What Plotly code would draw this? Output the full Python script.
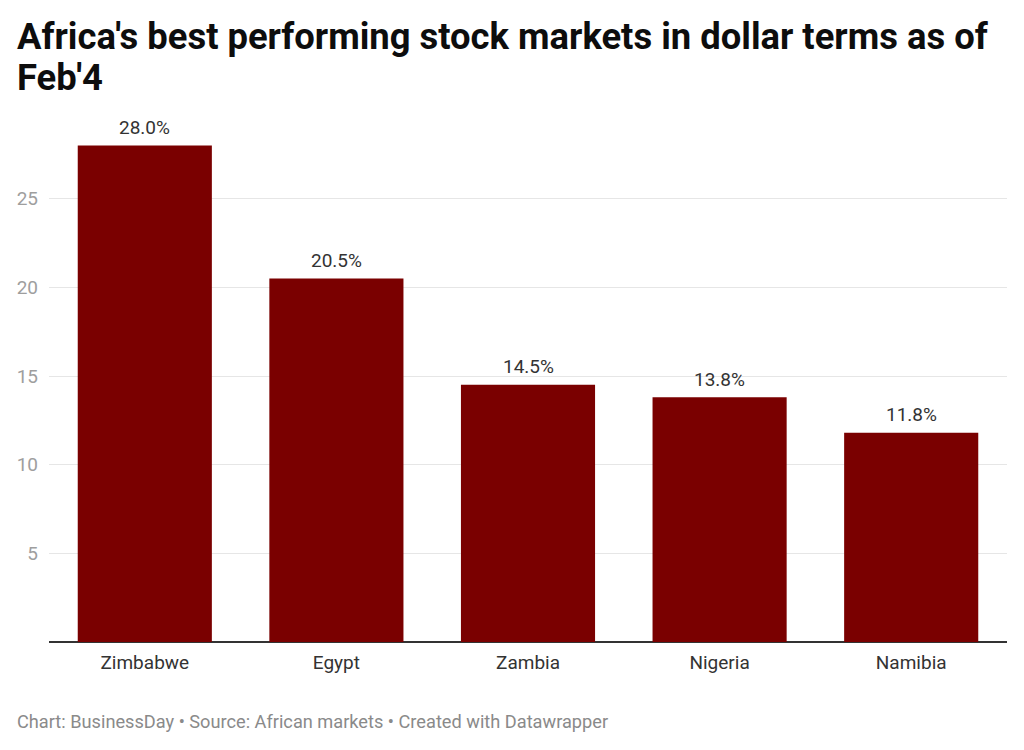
import plotly.graph_objects as go

countries = ["Zimbabwe", "Egypt", "Zambia", "Nigeria", "Namibia"]
returns = [28.0, 20.5, 14.5, 13.8, 11.8]
y_ticks = [5, 10, 15, 20, 25]

title_lines = ["Africa's best performing stock markets in dollar terms as of", "Feb'4"]
footer = "Chart: BusinessDay • Source: African markets • Created with Datawrapper"

PLOT_W, PLOT_H = 958, 532

fig = go.Figure(go.Bar(
    x=countries, y=returns,
    marker=dict(color="#7a0000", line=dict(width=0)),
    cliponaxis=False,
))

annotations = []
for c, v in zip(countries, returns):
    annotations.append(dict(
        x=c, y=v, xref="x", yref="y", text=f"{v:.1f}%", showarrow=False,
        yanchor="middle", yshift=18,
        font=dict(family="Roboto", size=19, color="#333333"),
    ))

title_centers = [37, 77]
for line, yc in zip(title_lines, title_centers):
    annotations.append(dict(
        text="<b>" + line + "</b>", xref="paper", yref="paper",
        x=-34 / PLOT_W, y=1 + (110 - yc) / PLOT_H, xanchor="left", yanchor="middle",
        showarrow=False, font=dict(family="Roboto", size=36.4, color="#0d0d0d"),
    ))

annotations.append(dict(
    text=footer, xref="paper", yref="paper",
    x=-34 / PLOT_W, y=-(721 - 642) / PLOT_H, xanchor="left", yanchor="middle",
    showarrow=False, font=dict(family="Roboto", size=18.2, color="#8a8a8a"),
))

fig.update_layout(
    width=1024, height=750,
    margin=dict(l=49, r=17, t=110, b=108),
    paper_bgcolor="white", plot_bgcolor="white",
    bargap=0.30,
    showlegend=False,
    font=dict(family="Roboto"),
    xaxis=dict(
        showgrid=False, showline=False, zeroline=False,
        tickfont=dict(family="Roboto", size=19, color="#333333"),
        ticks="", ticklabelstandoff=7,
    ),
    yaxis=dict(
        range=[0, 30], tickvals=y_ticks,
        showgrid=True, gridcolor="#e6e6e6", gridwidth=1,
        zeroline=True, zerolinecolor="#333333", zerolinewidth=1.5,
        showline=False, ticks="",
        tickfont=dict(family="Roboto", size=19, color="#9e9e9e"),
        ticklabelstandoff=10,
    ),
    annotations=annotations,
)

fig.write_html("out.html")
